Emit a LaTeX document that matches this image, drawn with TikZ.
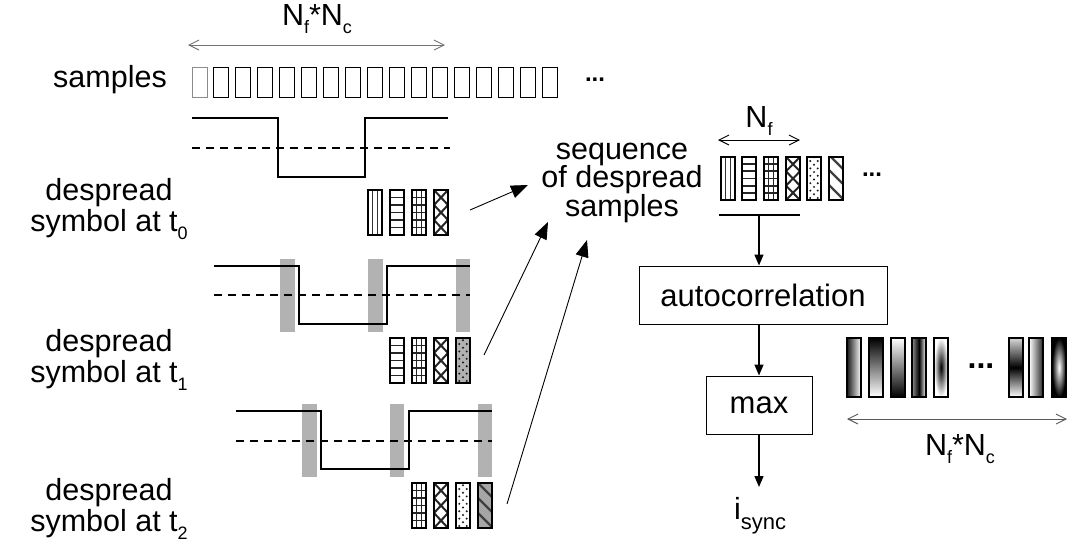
\documentclass[tikz,border=0pt]{standalone}
\usepackage{fontspec}
\setmainfont{Liberation Sans}
\usetikzlibrary{arrows.meta}
\newcommand{\mysb}[1]{\raisebox{-8pt}{\fontsize{18}{18}\selectfont #1}}
\def\bh{45}
\begin{document}
\begin{tikzpicture}[x=1pt,y=1pt,
  lbl/.style={font=\fontsize{30.5}{31}\selectfont, align=center, inner sep=0pt},
  seqlbl/.style={font=\fontsize{30.5}{28.5}\selectfont, align=center, inner sep=0pt},
  blk/.style={draw, line width=1pt, inner sep=0pt, font=\fontsize{31}{31}\selectfont},
  dotsty/.style={font=\bfseries\fontsize{24}{24}\selectfont, inner sep=0pt},
  sbox/.style={draw, line width=1pt},
  waveln/.style={line width=1.1pt},
  dashln/.style={line width=1.1pt, dash pattern=on 8pt off 6pt},
  barfill/.style={fill=black!30, draw=none},
  spanarr/.style={line width=0.9pt, {Straight Barb[length=10pt,width=10pt]}-{Straight Barb[length=10pt,width=10pt]}},
  bigarr/.style={line width=0.9pt, -{Triangle[length=17pt,width=13pt]}},
  arr/.style={line width=1.4pt, -{Triangle[length=11pt,width=9pt]}},
  pics/vl/.style={code={
     \draw[line width=1.5pt, black!80] (4.7,0)--(4.7,\bh) (9.3,0)--(9.3,\bh);
     \draw[line width=1.2pt] (0,0) rectangle (14,\bh);}},
  pics/hl/.style={code={
     \foreach \k in {1,...,5} \draw[line width=1.7pt, black!85] (0,\k*\bh/6) -- (14,\k*\bh/6);
     \draw[line width=1.2pt] (0,0) rectangle (14,\bh);}},
  pics/gr/.style={code={
     \foreach \k in {1,...,5} \draw[line width=1.7pt, black!85] (0,\k*\bh/6) -- (14,\k*\bh/6);
     \draw[line width=1.5pt, black!85] (4.7,0)--(4.7,\bh) (9.3,0)--(9.3,\bh);
     \draw[line width=1.2pt] (0,0) rectangle (14,\bh);}},
  pics/cr/.style={code={
     \begin{scope}
     \clip (0,0) rectangle (14,\bh);
     \draw[line width=2pt, black!85] (0,0)--(14,\bh/3)--(0,2*\bh/3)--(14,\bh)
        (14,0)--(0,\bh/3)--(14,2*\bh/3)--(0,\bh);
     \end{scope}
     \draw[line width=1.2pt] (0,0) rectangle (14,\bh);}},
  pics/dt/.style={code={
     \fill[#1] (0,0) rectangle (14,\bh);
     \foreach \r in {0,...,11}{
        \pgfmathsetmacro{\yy}{2+\r*3.7}
        \ifodd\r
          \fill[black!90] (7,\yy) circle (1.1pt);
        \else
          \fill[black!90] (3.3,\yy) circle (1.1pt) (10.7,\yy) circle (1.1pt);
        \fi}
     \draw[line width=1.2pt] (0,0) rectangle (14,\bh);}},
  pics/dg/.style={code={
     \begin{scope}
     \clip (0,0) rectangle (14,\bh);
     \fill[#1] (0,0) rectangle (14,\bh);
     \foreach \y in {0,15,30,45,60}
        \draw[line width=2.2pt, black!75] (0,\y)--(14,\y-14);
     \end{scope}
     \draw[line width=1.2pt] (0,0) rectangle (14,\bh);}},
  gbox/.style={line width=1.1pt}
]
\useasboundingbox (0,0) rectangle (1076,-547);

% ---------- top: N_f*N_c and samples ----------
\node[lbl, anchor=base] (nfnc) at (317,-25) {N\mysb{f}*N\mysb{c}};
\coordinate (spanL) at (188,-45);
\coordinate (spanR) at (445,-45);
\draw[spanarr, black!55] (spanL) -- (spanR);

\node[lbl, anchor=base] (samples) at (110,-87) {samples};
\draw[sbox, black!45] (192,-67) rectangle ++(15,-30);
\foreach \k in {1,...,16} \draw[sbox] ({192+21.9*\k},-67) rectangle ++(15,-30);
\node[dotsty] (sdots) at (595,-80) {...};

% ---------- symbol at t0 ----------
\draw[waveln] (192,-118) -- (278,-118) -- (278,-177) -- (365,-177) -- (365,-118) -- (448,-118);
\draw[dashln] (192,-148) -- (450,-148);
\node[lbl, anchor=base] (d0) at (109,-231) {despread\\symbol at t\mysb{0}};
\pic at (368,-235) {vl};
\pic at (390,-235) {hl};
\pic at (412,-235) {gr};
\pic at (434,-235) {cr};

% ---------- symbol at t1 ----------
\fill[barfill] (280,-259) rectangle (295,-332);
\fill[barfill] (368,-259) rectangle (383,-332);
\fill[barfill] (456,-259) rectangle (470,-332);
\draw[waveln] (214,-266) -- (299,-266) -- (299,-324) -- (387,-324) -- (387,-266) -- (470,-266);
\draw[dashln] (214,-295) -- (470,-295);
\node[lbl, anchor=base] (d1) at (109,-382) {despread\\symbol at t\mysb{1}};
\pic at (390,-383) {hl};
\pic at (412,-383) {gr};
\pic at (434,-383) {cr};
\pic at (456,-383) {dt=black!30};

% ---------- symbol at t2 ----------
\fill[barfill] (302,-404) rectangle (317,-477);
\fill[barfill] (390,-404) rectangle (404,-477);
\fill[barfill] (478,-404) rectangle (492,-477);
\draw[waveln] (236,-411) -- (321,-411) -- (321,-469) -- (409,-469) -- (409,-411) -- (492,-411);
\draw[dashln] (236,-441) -- (492,-441);
\node[lbl, anchor=base] (d2) at (109,-531) {despread\\symbol at t\mysb{2}};
\pic at (412,-528) {gr};
\pic at (434,-528) {cr};
\pic at (456,-528) {dt=white};
\pic at (478,-528) {dg=black!35};

% ---------- sequence of despread samples ----------
\node[seqlbl, anchor=base] (seq) at (622,-216) {sequence\\of despread\\samples};
\coordinate (a0s) at (470,-210);  \coordinate (a0e) at (528,-185);
\coordinate (a1s) at (484,-355);  \coordinate (a1e) at (548,-222);
\coordinate (a2s) at (507,-504);  \coordinate (a2e) at (587,-240);
\draw[bigarr] (a0s) -- (a0e);
\draw[bigarr] (a1s) -- (a1e);
\draw[bigarr] (a2s) -- (a2e);

\node[lbl, anchor=base] (nf) at (759,-127) {N\mysb{f}};
\coordinate (nfL) at (718,-140);
\coordinate (nfR) at (800,-140);
\draw[spanarr] (nfL) -- (nfR);
\begin{scope}
\def\bh{43}
\pic at (721,-200) {vl};
\pic at (742,-200) {hl};
\pic at (764,-200) {gr};
\pic at (786,-200) {cr};
\pic at (807,-200) {dt=white};
\pic at (829,-200) {dg=white};
\end{scope}
\node[dotsty] (qdots) at (872,-175) {...};
\coordinate (barL) at (719,-215);
\coordinate (barR) at (800,-215);
\coordinate (barM) at (759,-215);
\draw[line width=2pt] (barL) -- (barR);

% ---------- processing chain ----------
\node[blk, minimum width=248pt, minimum height=58pt] (auto) at (763,-295) {autocorrelation};
\node[blk, minimum width=106pt, minimum height=58pt] (max) at (759,-405) {max};
\node[lbl, anchor=base] (isync) at (760,-519) {i\raisebox{-10pt}{\fontsize{22}{22}\selectfont sync}};
\coordinate (isyncTop) at (759,-487);
\draw[arr] (barM) -- (barM |- auto.north);
\draw[arr] (max.north |- auto.south) -- (max.north);
\draw[arr] (max.south) -- (isyncTop);

% ---------- autocorrelation results ----------
\shade[left color=black!90, right color=white] (847,-397) rectangle ++(14,59);
\draw[gbox] (847,-397) rectangle ++(14,59);
\shade[top color=black, bottom color=white] (869,-397) rectangle ++(14,59);
\draw[gbox] (869,-397) rectangle ++(14,59);
\shade[top color=white, bottom color=black] (891,-397) rectangle ++(14,59);
\draw[gbox] (891,-397) rectangle ++(14,59);
\shade[left color=black!45, right color=white, middle color=black] (912,-397) rectangle ++(14,59);
\draw[gbox] (912,-397) rectangle ++(14,59);
\shade[inner color=black, outer color=white] (934,-397) rectangle ++(14,59);
\draw[gbox] (934,-397) rectangle ++(14,59);
\node[dotsty, font=\bfseries\fontsize{32}{32}\selectfont] (rdots) at (981,-366) {...};
\shade[top color=black!15, bottom color=white, middle color=black] (1009,-397) rectangle ++(14,59);
\draw[gbox] (1009,-397) rectangle ++(14,59);
\shade[left color=white, right color=black!85] (1029,-397) rectangle ++(14,59);
\draw[gbox] (1029,-397) rectangle ++(14,59);
\shade[inner color=white, outer color=black] (1052,-397) rectangle ++(14,59);
\draw[gbox] (1052,-397) rectangle ++(14,59);

\coordinate (rL) at (847,-419);
\coordinate (rR) at (1067,-419);
\draw[spanarr, black!65] (rL) -- (rR);
\node[lbl, anchor=base] (nfnc2) at (960,-455) {N\mysb{f}*N\mysb{c}};
\end{tikzpicture}
\end{document}
